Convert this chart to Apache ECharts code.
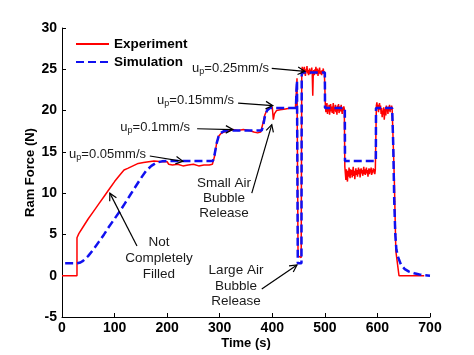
<!DOCTYPE html>
<html><head><meta charset="utf-8">
<script src="https://cdn.jsdelivr.net/npm/echarts@6/dist/echarts.min.js"></script>
<style>html,body{margin:0;padding:0;background:#fff}#c{width:474px;height:355px}</style>
</head><body><div id="c"></div>
<script>
// ---- Experiment (red) : smooth part as [time, force]
const expHead = [[0,0],[28.5,0],[28.5,4.6],[30,4.4],[32,5.1],[40,5.9],[50,6.9],[60,7.8],[70,8.7],[80,9.6],[90,10.5],[100,11.4],[110,12.2],[118,12.8],[125,13.0],[135,13.3],[145,13.6],[155,13.7],[165,13.8],[175,13.9],[190,13.8],[200,13.8],[203,13.5],[210,13.4],[220,13.5],[230,13.3],[240,13.4],[250,13.5],[260,13.3],[270,13.4],[280,13.4],[286,13.5],[290,14.4],[294,16.0],[298,16.9],[302,17.2],[308,17.4],[315,17.5],[325,17.7],[335,17.6],[345,17.7],[355,17.6],[365,17.4],[372,17.3],[378,17.4],[382,18.4],[386,19.5],[390,20.1],[396,20.3],[400,20.4],[402,18.9],[404,19.6],[408,20.0],[415,20.1],[425,20.2],[435,20.3],[444,20.3],[446,22.5],[447,23.9],[448,24.1],[449,2.4],[455,2.2],[456,24.0],[457,25.3]];
// noisy plateaus, one reading per second from the start time
const plateauAStart = 458;
const plateauA = [25.2,24.4,24.9,25.3,24.6,24.2,25.0,24.7,25.4,24.5,24.9,24.3,24.8,25.1,24.4,24.9,24.6,25.2,24.5,21.8,24.6,24.9,24.3,25.0,24.6,25.3,24.4,24.8,25.1,24.2,24.9,24.5,25.2,24.4,24.8,25.0,24.3,24.9,24.6,25.1,24.5,24.8,24.6];
const plateauBStart = 501;
const plateauB = [20.6,19.8,20.4,20.9,19.6,20.3,19.9,20.7,19.5,20.2,20.8,19.9,20.5,19.7,20.1,20.9,19.6,20.4,20.0,20.7,19.8,20.3,19.5,20.6,20.0,20.8,19.7,20.2,20.5,19.9,20.7,20.1,19.6,20.4,20.0,20.5,20.2];
const plateauCStart = 538;
const plateauC = [13.2,12.4,11.6,12.9,12.1,11.4,12.7,12.0,13.1,12.3,11.8,12.9,12.2,12.8,11.9,12.6,13.2,12.1,12.7,11.7,12.5,13.0,12.2,12.8,12.0,12.6,13.1,12.3,12.9,11.9,12.5,13.0,12.4,12.8,12.1,12.7,13.2,12.3,12.9,12.2,12.6,13.1,12.4,12.8,12.0,12.7,13.0,12.3,12.9,12.5,13.1,12.2,12.8,12.4,13.0,12.6,12.9,12.3,12.8,12.6];
const plateauDStart = 598;
const plateauD = [20.6,21.0,20.2,20.7,19.8,20.5,20.9,20.1,20.6,19.6,20.3,19.2,20.0,19.5,20.4,18.9,19.7,20.2,19.4,20.6,19.9,20.3,19.6,20.5,20.0,20.7,19.8,20.4,20.1,20.6,20.2,20.0];
const expTail = [[632,12.0],[635,3.0],[641,0],[689,0]];

// ---- Simulation (blue dashed)
const simData = [[6,1.5],[29,1.5],[35,1.6],[40,1.8],[50,2.4],[60,3.2],[70,4.1],[80,5.0],[90,6.0],[100,6.9],[110,7.8],[120,8.8],[130,9.8],[140,10.8],[150,11.8],[160,12.7],[170,13.3],[180,13.7],[190,13.85],[200,13.9],[287,13.9],[290,14.6],[294,16.0],[298,16.9],[302,17.3],[308,17.5],[315,17.6],[380,17.6],[383,18.3],[386,19.3],[390,20.0],[395,20.3],[445,20.3],[446,22.5],[447,23.6],[448,23.7],[448.5,1.5],[455.5,1.5],[456,24.6],[500,24.6],[500.3,20.3],[538,20.3],[538.3,13.9],[597,13.9],[597.3,20.3],[628,20.3],[630,16],[632,9],[634,5],[636,3.2],[639,2.3],[645,1.3],[652,0.8],[660,0.5],[670,0.3],[680,0.15],[690,0.05],[700,0]];

// ---- axes
const xMin = 0, xMax = 700, xStep = 100;
const yMin = -5, yMax = 30, yStep = 5;

// ---- annotations: label text and arrow tail/tip in data coords
const speedLabels = ['=0.25mm/s','=0.15mm/s','=0.1mm/s','=0.05mm/s'];
const speedArrows = [[[399,25.1],[462,24.75]],[[335,20.9],[401,20.6]],[[257,17.8],[325,17.7]],[[167,14.5],[230,13.85]]];
const noteTexts = ['Not\nCompletely\nFilled','Small Air\nBubble\nRelease','Large Air\nBubble\nRelease'];
const noteArrows = [[[142.6,3.6],[91,10.0]],[[361,10.0],[399,18.3]],[[380,-1.6],[447,1.3]]];

function plateau(start, vals){ return vals.map((v,i)=>[start+i, v]); }
const expData = [].concat(expHead, plateau(plateauAStart,plateauA), plateau(plateauBStart,plateauB), plateau(plateauCStart,plateauC), plateau(plateauDStart,plateauD), expTail);

const FF = 'Liberation Sans, Arial, sans-serif';
const chart = echarts.init(document.getElementById('c'), null, {renderer:'canvas'});
const axisCommon = {
  axisLine:{show:true, onZero:false, lineStyle:{color:'#000', width:1}},
  axisTick:{show:true, inside:true, length:4, lineStyle:{color:'#000'}},
  splitLine:{show:false},
  nameLocation:'middle',
  nameMoveOverlap:false,
  nameTextStyle:{fontFamily:FF, fontWeight:'bold', fontSize:13, color:'#000'}
};
chart.setOption({
  animation:false,
  grid:{left:62, right:44, top:28, bottom:38, containLabel:false},
  legend:{left:75, top:37, padding:0, orient:'vertical', itemWidth:33, itemHeight:12, itemGap:4,
    itemStyle:{opacity:0, borderWidth:0},
    textStyle:{fontFamily:FF, fontWeight:'bold', fontSize:13.5, color:'#000'},
    data:['Experiment','Simulation']},
  xAxis:Object.assign({}, axisCommon, {type:'value', min:xMin, max:xMax, interval:xStep, name:'Time (s)', nameGap:20,
    axisLabel:{fontFamily:FF, fontWeight:'bold', fontSize:14, color:'#000', margin:4}}),
  yAxis:Object.assign({}, axisCommon, {type:'value', min:yMin, max:yMax, interval:yStep, name:'Ram Force (N)', nameGap:25, nameRotate:90,
    axisLabel:{fontFamily:FF, fontWeight:'bold', fontSize:14, color:'#000', margin:5}}),
  series:[
    {name:'Experiment', type:'line', data:expData, symbol:'none', showSymbol:false,
      lineStyle:{color:'#ff0000', width:1.5}, itemStyle:{color:'#ff0000'}, z:2},
    {name:'Simulation', type:'line', data:simData, symbol:'none', showSymbol:false,
      lineStyle:{color:'#1010f0', width:2.5, type:[8,4]}, itemStyle:{color:'#1010f0'}, z:3}
  ]
});

function px(p){ return chart.convertToPixel({xAxisIndex:0, yAxisIndex:0}, p); }
function arrowEls(tail, tip){
  const a = px(tail), b = px(tip);
  const dx = b[0]-a[0], dy = b[1]-a[1], L = Math.hypot(dx,dy);
  const ux = dx/L, uy = dy/L, hl = 8, ang = 28*Math.PI/180;
  const c = Math.cos(ang), s = Math.sin(ang);
  const h1 = [b[0]-hl*(ux*c - uy*s), b[1]-hl*(uy*c + ux*s)];
  const h2 = [b[0]-hl*(ux*c + uy*s), b[1]-hl*(uy*c - ux*s)];
  const st = {stroke:'#000', lineWidth:1.2, fill:null};
  return [
    {type:'polyline', shape:{points:[a,b]}, style:st, z:10},
    {type:'polyline', shape:{points:[h1,b,h2]}, style:st, z:10}
  ];
}
const ctx = document.createElement('canvas').getContext('2d');
function textW(t, size){ ctx.font = size + 'px ' + FF; return ctx.measureText(t).width; }
const txtColor = '#1a1a1a';
const speedPos = [[269,68],[234,100],[190,127],[146,154]];
const notePos = [[159,258,16],[224,198,15],[236,286,15.5]];
const els = [];
speedLabels.forEach((t,i)=>{
  const r = speedPos[i][0], y = speedPos[i][1];
  const w = textW(t, 13), pw = textW('p', 9);
  els.push({type:'text', x:r, y:y, z:10, style:{text:t, align:'right', verticalAlign:'middle', fontSize:13, fontFamily:FF, fill:txtColor}});
  els.push({type:'text', x:r-w, y:y+4, z:10, style:{text:'p', align:'right', verticalAlign:'middle', fontSize:9, fontFamily:FF, fill:txtColor}});
  els.push({type:'text', x:r-w-pw, y:y, z:10, style:{text:'u', align:'right', verticalAlign:'middle', fontSize:13, fontFamily:FF, fill:txtColor}});
  els.push(...arrowEls(speedArrows[i][0], speedArrows[i][1]));
});
noteTexts.forEach((t,i)=>{
  els.push({type:'text', x:notePos[i][0], y:notePos[i][1], z:10,
    style:{text:t, align:'center', verticalAlign:'middle', fontSize:13.5, fontFamily:FF, fill:txtColor, lineHeight:notePos[i][2]}});
  els.push(...arrowEls(noteArrows[i][0], noteArrows[i][1]));
});
chart.setOption({graphic:{elements:els}});
</script>
</body></html>
